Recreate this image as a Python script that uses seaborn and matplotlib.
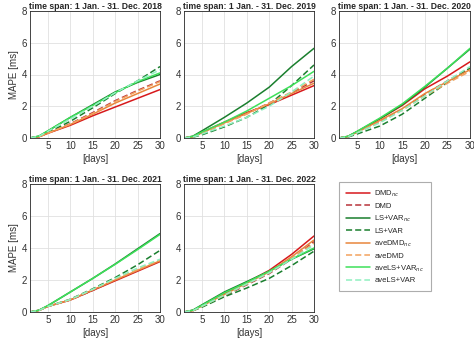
import numpy as np
import pandas as pd
import matplotlib
matplotlib.use('Agg')
import matplotlib.pyplot as plt
import seaborn as sns

days = [1, 3, 5, 10, 15, 20, 25, 30]
years = ['2018', '2019', '2020', '2021', '2022']
methods = ['DMD$_{nc}$', 'DMD', 'LS+VAR$_{nc}$', 'LS+VAR',
           'aveDMD$_{nc}$', 'aveDMD', 'aveLS+VAR$_{nc}$', 'aveLS+VAR']

# MAPE values [ms] per year, one list per method (same order as methods)
mape_2018 = [
    [0, 0.08, 0.30, 0.80, 1.40, 1.95, 2.50, 3.05],
    [0, 0.08, 0.32, 0.90, 1.60, 2.35, 3.00, 3.60],
    [0, 0.12, 0.45, 1.30, 2.10, 2.90, 3.50, 4.00],
    [0, 0.10, 0.35, 1.05, 1.90, 2.80, 3.60, 4.50],
    [0, 0.08, 0.30, 0.85, 1.50, 2.20, 2.80, 3.40],
    [0, 0.08, 0.31, 0.88, 1.55, 2.30, 2.95, 3.55],
    [0, 0.12, 0.45, 1.30, 2.05, 2.85, 3.55, 4.10],
    [0, 0.11, 0.42, 1.20, 2.00, 2.85, 3.60, 4.30],
]
mape_2019 = [
    [0, 0.08, 0.35, 1.00, 1.60, 2.10, 2.70, 3.30],
    [0, 0.07, 0.30, 0.95, 1.55, 2.20, 2.85, 3.60],
    [0, 0.12, 0.45, 1.30, 2.20, 3.20, 4.50, 5.65],
    [0, 0.05, 0.20, 0.70, 1.30, 2.10, 3.30, 4.60],
    [0, 0.08, 0.33, 0.95, 1.55, 2.15, 2.80, 3.45],
    [0, 0.07, 0.30, 0.90, 1.50, 2.20, 2.90, 3.70],
    [0, 0.10, 0.38, 1.00, 1.70, 2.50, 3.30, 4.20],
    [0, 0.06, 0.25, 0.75, 1.30, 2.00, 2.90, 3.90],
]
mape_2020 = [
    [0, 0.10, 0.40, 1.20, 2.05, 3.10, 3.90, 4.80],
    [0, 0.09, 0.35, 1.05, 1.80, 2.75, 3.60, 4.40],
    [0, 0.10, 0.40, 1.20, 2.10, 3.20, 4.40, 5.60],
    [0, 0.06, 0.25, 0.75, 1.50, 2.50, 3.50, 4.40],
    [0, 0.09, 0.36, 1.10, 1.85, 2.80, 3.55, 4.30],
    [0, 0.09, 0.34, 1.00, 1.75, 2.65, 3.45, 4.20],
    [0, 0.11, 0.42, 1.25, 2.15, 3.25, 4.40, 5.65],
    [0, 0.08, 0.32, 0.95, 1.75, 2.65, 3.60, 4.50],
]
mape_2021 = [
    [0, 0.10, 0.35, 0.75, 1.35, 1.95, 2.55, 3.15],
    [0, 0.10, 0.35, 0.75, 1.35, 2.00, 2.60, 3.20],
    [0, 0.11, 0.40, 1.25, 2.10, 3.00, 3.95, 4.90],
    [0, 0.10, 0.35, 0.80, 1.45, 2.15, 2.95, 3.85],
    [0, 0.10, 0.35, 0.76, 1.38, 2.00, 2.60, 3.20],
    [0, 0.10, 0.35, 0.77, 1.40, 2.05, 2.65, 3.25],
    [0, 0.11, 0.40, 1.25, 2.10, 2.98, 3.90, 4.85],
    [0, 0.10, 0.35, 0.78, 1.42, 2.10, 2.75, 3.30],
]
mape_2022 = [
    [0, 0.10, 0.40, 1.15, 1.85, 2.60, 3.60, 4.75],
    [0, 0.08, 0.35, 1.00, 1.70, 2.40, 3.30, 4.40],
    [0, 0.12, 0.45, 1.25, 1.90, 2.55, 3.30, 3.95],
    [0, 0.08, 0.30, 0.95, 1.50, 2.10, 2.90, 3.80],
    [0, 0.09, 0.38, 1.10, 1.80, 2.50, 3.45, 4.50],
    [0, 0.08, 0.35, 1.05, 1.75, 2.45, 3.35, 4.30],
    [0, 0.11, 0.42, 1.20, 1.85, 2.55, 3.30, 4.00],
    [0, 0.09, 0.36, 1.05, 1.75, 2.45, 3.30, 4.20],
]
all_mape = [mape_2018, mape_2019, mape_2020, mape_2021, mape_2022]

colors = ['#d7191c', '#b8333b', '#1a7f2e', '#1a7f2e',
          '#e8863c', '#f2a25e', '#3ee05a', '#8ff0c0']
dashes = ['', (4, 2), '', (4, 2), '', (4, 2), '', (4, 2)]
palette = dict(zip(methods, colors))
dash_map = dict(zip(methods, dashes))

rows = []
for yr, mape in zip(years, all_mape):
    for m, vals in zip(methods, mape):
        for d, v in zip(days, vals):
            rows.append({'year': yr, 'method': m, 'day': d, 'mape': v})
df = pd.DataFrame(rows)

sns.set_style('whitegrid')
plt.rcParams['font.family'] = ['Liberation Sans', 'DejaVu Sans']

fig = plt.figure(figsize=(4.74, 3.5), dpi=100)
W, H = 474, 350
boxes = [(30, 11, 160, 138), (184, 11, 314, 138), (339, 11, 470, 138),
         (30, 184, 160, 312), (184, 184, 314, 312)]

for i, (yr, (x0, y0, x1, y1)) in enumerate(zip(years, boxes)):
    ax = fig.add_axes([x0 / W, 1 - y1 / H, (x1 - x0) / W, (y1 - y0) / H])
    sns.lineplot(data=df[df['year'] == yr], x='day', y='mape', hue='method',
                 style='method', palette=palette, dashes=dash_map,
                 linewidth=1.1, ax=ax, legend=(i == 0))
    ax.set_xlim(1, 30)
    ax.set_ylim(0, 8)
    ax.set_xticks([5, 10, 15, 20, 25, 30])
    ax.set_yticks([0, 2, 4, 6, 8])
    ax.tick_params(labelsize=7, colors='#333333', length=0, pad=2)
    ax.grid(color='#e0e0e0', linewidth=0.6)
    for s in ax.spines.values():
        s.set_color('#262626')
        s.set_linewidth(0.6)
    ax.set_xlabel('[days]', fontsize=7, color='#333333', labelpad=2)
    if i in (0, 3):
        ax.set_ylabel('MAPE [ms]', fontsize=7, color='#333333', labelpad=2)
    else:
        ax.set_ylabel('')
    ax.set_title('time span: 1 Jan. - 31. Dec. ' + yr, fontsize=6.2,
                 fontweight='bold', pad=1.5)
    if i == 0:
        handles, labels = ax.get_legend_handles_labels()
        ax.get_legend().remove()

leg = fig.legend(handles, labels, loc='upper left',
                 bbox_to_anchor=(339 / W, 1 - 182 / H), fontsize=5.5,
                 frameon=True, fancybox=False, handlelength=3.2,
                 labelspacing=0.45, borderpad=0.9, borderaxespad=0,
                 handletextpad=0.5)
leg.get_frame().set_edgecolor('#999999')
leg.get_frame().set_linewidth(0.8)

fig.savefig('out.png', dpi=100)
